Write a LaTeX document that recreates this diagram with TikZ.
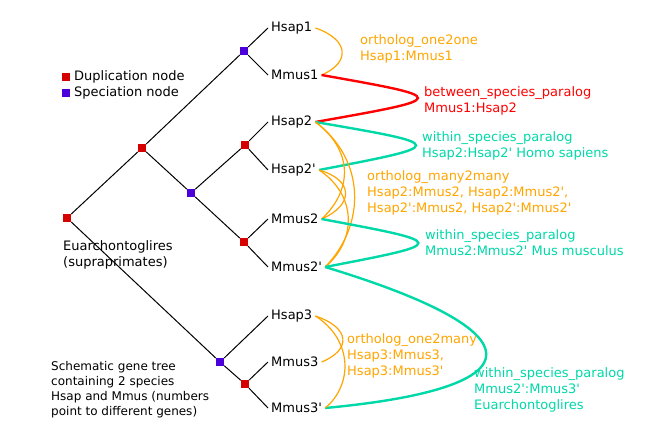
\documentclass[tikz,border=0pt]{standalone}
\usepackage{fontspec}
\setmainfont{DejaVu Sans}[Ligatures=TeXOff]
\definecolor{dupred}{HTML}{D50000}
\definecolor{specblue}{HTML}{4B00D9}
\definecolor{orthoorange}{HTML}{FFA500}
\definecolor{parateal}{HTML}{00D8A8}
\definecolor{bspred}{HTML}{FF0000}
\begin{document}
\begin{tikzpicture}[x=1pt, y=-1pt,
        font=\fontsize{13}{16}\selectfont,
        dupnode/.style = {fill=dupred, minimum size=8pt, inner sep=0pt},
        specnode/.style = {fill=specblue, minimum size=8pt, inner sep=0pt},
        leaf/.style = {anchor=west, inner xsep=3pt, inner ysep=1pt},
        branch/.style = {black, line width=1pt},
        ortho/.style = {orthoorange, line width=1.2pt},
        wsp/.style = {parateal, line width=2.4pt},
        bsp/.style = {bspred, line width=2.4pt},
        lbl/.style = {anchor=north west, align=left, inner sep=0pt}]
        \useasboundingbox (0,0) rectangle (652,436);

        % internal nodes of the gene tree
        \node[dupnode] (root) at (67,218) {};
        \node[dupnode] (dupa) at (142,148) {};
        \node[specnode] (speca) at (244,51) {};
        \node[specnode] (specb) at (191,193) {};
        \node[dupnode] (dupb) at (245,145) {};
        \node[dupnode] (dupc) at (244,242) {};
        \node[specnode] (specc) at (220,362) {};
        \node[dupnode] (dupd) at (245,384) {};

        % leaves
        \node[leaf] (hsap1) at (268,28) {Hsap1};
        \node[leaf] (mmus1) at (268,75) {Mmus1};
        \node[leaf] (hsap2) at (268,122) {Hsap2};
        \node[leaf] (hsap2p) at (268,170) {Hsap2'};
        \node[leaf] (mmus2) at (268,219) {Mmus2};
        \node[leaf] (mmus2p) at (268,267) {Mmus2'};
        \node[leaf] (hsap3) at (268,316) {Hsap3};
        \node[leaf] (mmus3) at (268,362) {Mmus3};
        \node[leaf] (mmus3p) at (268,408) {Mmus3'};

        % branches
        \draw[branch] (root) -- (dupa);
        \draw[branch] (root) -- (specc);
        \draw[branch] (dupa) -- (speca);
        \draw[branch] (dupa) -- (specb);
        \draw[branch] (speca) -- (hsap1.west);
        \draw[branch] (speca) -- (mmus1.west);
        \draw[branch] (specb) -- (dupb);
        \draw[branch] (specb) -- (dupc);
        \draw[branch] (dupb) -- (hsap2.west);
        \draw[branch] (dupb) -- (hsap2p.west);
        \draw[branch] (dupc) -- (mmus2.west);
        \draw[branch] (dupc) -- (mmus2p.west);
        \draw[branch] (specc) -- (hsap3.west);
        \draw[branch] (specc) -- (dupd);
        \draw[branch] (dupd) -- (mmus3.west);
        \draw[branch] (dupd) -- (mmus3p.west);

        % legend
        \node[dupnode] (legdup) at (66,77) {};
        \node[specnode] (legspec) at (66,93) {};
        \node[anchor=west, inner sep=0pt] (legduptxt) at (74,77) {Duplication node};
        \node[anchor=west, inner sep=0pt] (legspectxt) at (74,93) {Speciation node};

        \node[lbl, font=\fontsize{13}{16.5}\selectfont] (eutxt) at (63,240) {Euarchontoglires\\(supraprimates)};
        \node[lbl, font=\fontsize{12}{15}\selectfont] (schemtxt) at (51,361) {Schematic gene tree\\containing 2 species\\Hsap and Mmus (numbers\\point to different genes)};

        % homology relations
        \draw[ortho] (hsap1.east) .. controls (350,40) and (350,63) .. (mmus1.east);
        \draw[bsp] (mmus1.east) .. controls (451,98) and (451,98) .. (hsap2.east);
        \draw[wsp] (hsap2.east) .. controls (449,145) and (449,145) .. (hsap2p.east);
        \draw[ortho] (hsap2.east) .. controls (353,150) and (353,190) .. (mmus2.east);
        \draw[ortho] (hsap2.east) .. controls (366,160) and (366,225) .. (mmus2p.east);
        \draw[ortho] (hsap2p.east) .. controls (354,180) and (354,205) .. (mmus2.east);
        \draw[ortho] (hsap2p.east) .. controls (357,195) and (357,240) .. (mmus2p.east);
        \draw[wsp] (mmus2.east) .. controls (450,243) and (450,243) .. (mmus2p.east);
        \draw[wsp] (mmus2p.east) .. controls (540,332) and (540,388) .. (mmus3p.east);
        \draw[ortho] (hsap3.east) .. controls (351,328) and (351,350) .. (mmus3.east);
        \draw[ortho] (hsap3.east) .. controls (353,340) and (353,385) .. (mmus3p.east);

        % relation labels
        \node[lbl, orthoorange] (o11txt) at (360,34) {ortholog\_one2one\\Hsap1:Mmus1};
        \node[lbl, bspred] (bsptxt) at (424,86) {between\_species\_paralog\\Mmus1:Hsap2};
        \node[lbl, parateal] (wsphtxt) at (422,131) {within\_species\_paralog\\Hsap2:Hsap2' Homo sapiens};
        \node[lbl, orthoorange] (ommtxt) at (367,170) {ortholog\_many2many\\Hsap2:Mmus2, Hsap2:Mmus2',\\Hsap2':Mmus2, Hsap2':Mmus2'};
        \node[lbl, parateal] (wspmtxt) at (425,229) {within\_species\_paralog\\Mmus2:Mmus2' Mus musculus};
        \node[lbl, orthoorange] (o1mtxt) at (347,333) {ortholog\_one2many\\Hsap3:Mmus3,\\Hsap3:Mmus3'};
        \node[lbl, parateal] (wspetxt) at (474,367) {within\_species\_paralog\\Mmus2':Mmus3'\\Euarchontoglires};
    \end{tikzpicture}
\end{document}
